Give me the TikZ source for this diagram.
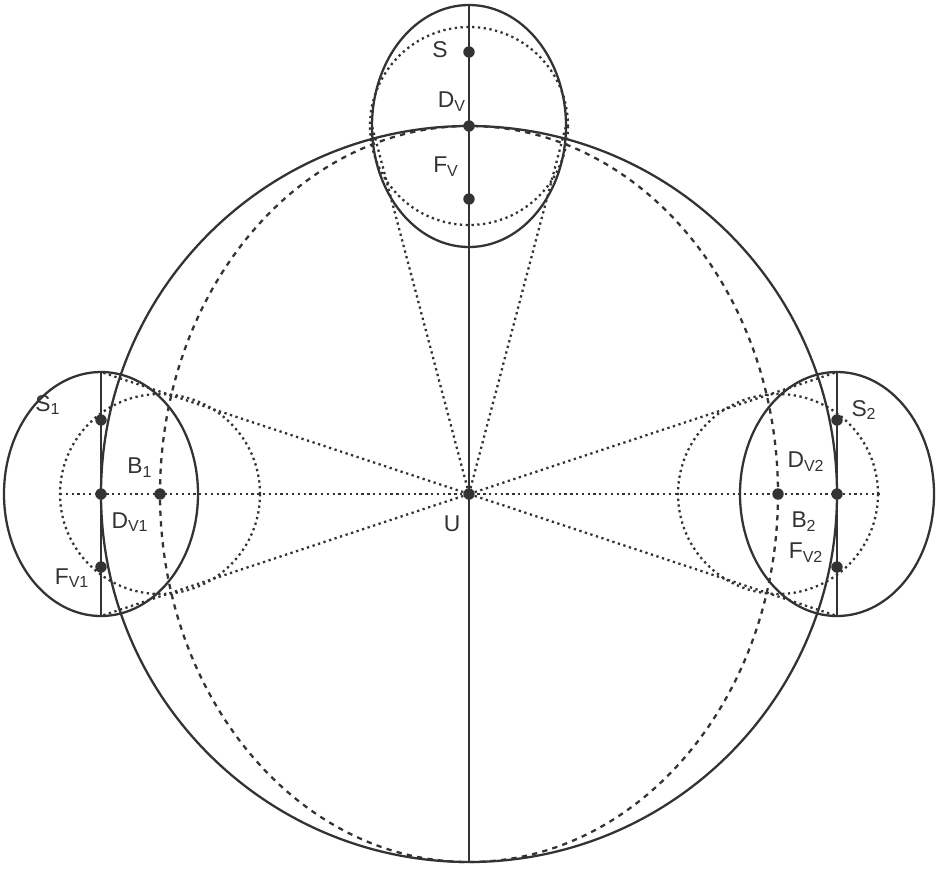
\documentclass[tikz,border=0pt]{standalone}
\usepackage{fontspec}
\setmainfont{Liberation Sans}
\begin{document}
\begin{tikzpicture}[x=0.02cm,y=-0.02cm,
  solid line/.style={draw=black!80,line width=1.3pt},
  dotline/.style={draw=black!80,line width=1.3pt,dotted},
  dashline/.style={draw=black!80,line width=1.3pt,dashed},
  pt/.style={circle,fill=black!80,inner sep=0pt,minimum size=6.5pt},
  lab/.style={text=black!80,font=\fontsize{13}{15}\selectfont,inner sep=0pt}]
\useasboundingbox (0,0) rectangle (940,870);
% points
\node[pt] (U) at (469,494) {};
\node[pt] (S) at (469,52) {};
\node[pt] (DV) at (469,126) {};
\node[pt] (FV) at (469,199) {};
\node[pt] (S1) at (101,420) {};
\node[pt] (DV1) at (101,494) {};
\node[pt] (FV1) at (101,567) {};
\node[pt] (B1) at (160,494) {};
\node[pt] (S2) at (837,420) {};
\node[pt] (DV2) at (837,494) {};
\node[pt] (FV2) at (837,567) {};
\node[pt] (B2) at (778,494) {};
\coordinate (T0) at (469,5);
\coordinate (Bot) at (469,862);
\coordinate (L0) at (101,372); \coordinate (L1) at (101,616);
\coordinate (R0) at (837,372); \coordinate (R1) at (837,616);
\coordinate (TL) at (372,126); \coordinate (TR) at (566,126);
\coordinate (HL) at (60,494); \coordinate (HR) at (880,494);
% big shapes
\draw[solid line] (U) circle[radius=368];
\draw[dashline] (U) ellipse[x radius=309,y radius=368];
\draw[solid line] (DV) ellipse[x radius=97,y radius=121];
\draw[solid line] (DV1) ellipse[x radius=97,y radius=122];
\draw[solid line] (DV2) ellipse[x radius=97,y radius=122];
\draw[dotline] (DV) circle[radius=99];
\draw[dotline] (B1) circle[radius=100];
\draw[dotline] (B2) circle[radius=100];
% lines
\draw[solid line] (T0) -- (Bot);
\draw[solid line] (L0) -- (L1);
\draw[solid line] (R0) -- (R1);
\draw[dotline] (HL) -- (HR);
\draw[dotline] (U) -- (TL);
\draw[dotline] (U) -- (TR);
\draw[dotline] (U) -- (L0);
\draw[dotline] (U) -- (L1);
\draw[dotline] (U) -- (R0);
\draw[dotline] (U) -- (R1);
% labels
\node[lab] (lS) at (440,50) {S};
\node[lab] (lDV) at (452,102) {D\textsubscript{V}};
\node[lab] (lFV) at (446,167) {F\textsubscript{V}};
\node[lab] (lS1) at (48,405) {S\textsubscript{1}};
\node[lab] (lB1) at (140,468) {B\textsubscript{1}};
\node[lab] (lDV1) at (130,522) {D\textsubscript{V1}};
\node[lab] (lFV1) at (72,578) {F\textsubscript{V1}};
\node[lab] (lU) at (452,524) {U};
\node[lab] (lS2) at (864,410) {S\textsubscript{2}};
\node[lab] (lDV2) at (806,462) {D\textsubscript{V2}};
\node[lab] (lB2) at (804,522) {B\textsubscript{2}};
\node[lab] (lFV2) at (806,553) {F\textsubscript{V2}};
\end{tikzpicture}
\end{document}
